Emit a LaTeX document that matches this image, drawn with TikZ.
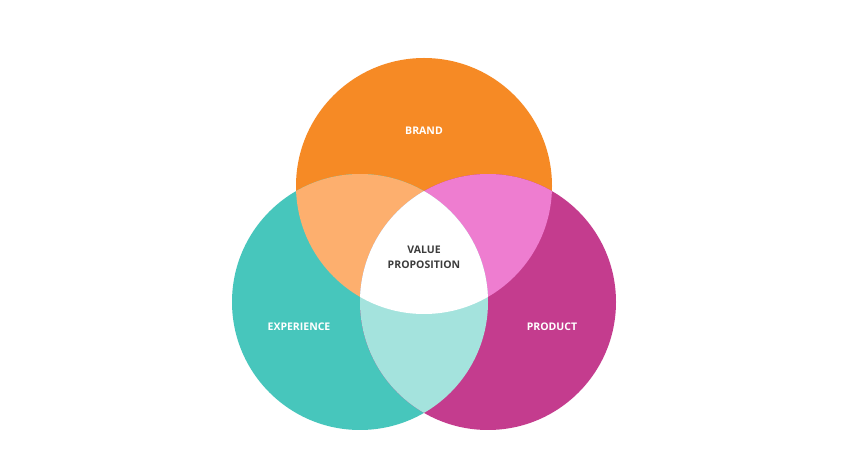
\documentclass[tikz,border=0pt]{standalone}
\usepackage{fontspec}
\setmainfont{Open Sans}
\definecolor{brandcol}{HTML}{F68A25}
\definecolor{expcol}{HTML}{47C6BC}
\definecolor{prodcol}{HTML}{C43C8E}
\definecolor{bexcol}{HTML}{FDAF6E}
\definecolor{bprcol}{HTML}{EE7DD0}
\definecolor{eprcol}{HTML}{A4E3DD}
\definecolor{txtcol}{HTML}{3C3C3C}
\tikzset{
  label/.style={font=\bfseries\fontsize{10.5}{12}\selectfont, text=white, align=center},
}
\newcommand{\brandpath}{(424,186) circle (128)}
\newcommand{\exppath}{(360,302) circle (128)}
\newcommand{\prodpath}{(488,302) circle (128)}
\begin{document}
\begin{tikzpicture}[x=1pt,y=-1pt]
\useasboundingbox[fill=white] (0,0) rectangle (847,462);
% circles
\fill[brandcol] \brandpath;
\fill[expcol] \exppath;
\fill[prodcol] \prodpath;
% overlaps
\begin{scope}
  \clip \brandpath;
  \fill[bexcol] \exppath;
  \fill[bprcol] \prodpath;
\end{scope}
\begin{scope}
  \clip \exppath;
  \fill[eprcol] \prodpath;
  \clip \prodpath;
  \fill[white] \brandpath;
\end{scope}
% labels
\node[label] (brand) at (424,131) {BRAND};
\node[label] (exp) at (299,327) {EXPERIENCE};
\node[label] (prod) at (552,327) {PRODUCT};
\node[label, text=txtcol, font=\bfseries\fontsize{10.5}{15}\selectfont] (value) at (424,257) {VALUE\\PROPOSITION};
\end{tikzpicture}
\end{document}
